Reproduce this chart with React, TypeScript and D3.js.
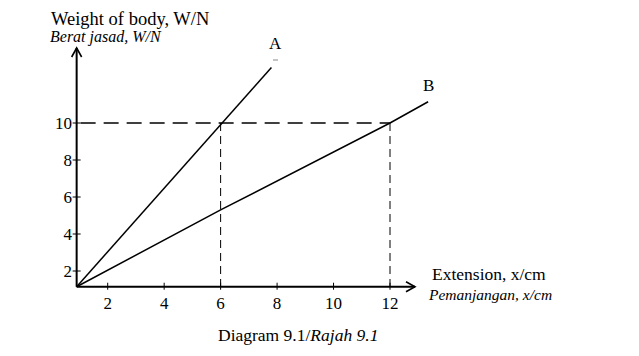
import React from "react";
import * as d3 from "d3";

const xTicks = [2, 4, 6, 8, 10, 12];
const yTicks = [2, 4, 6, 8, 10];
const origin = { x: 0.9, y: 1.15 };
const lineA = [
  { x: 0.9, y: 1.15 },
  { x: 7.8, y: 13.0 },
];
const lineB = [
  { x: 0.9, y: 1.15 },
  { x: 6, y: 5.3 },
  { x: 12, y: 10 },
  { x: 13.35, y: 11.15 },
];
const guideY = 10;
const guideXs = [6, 12];

const W = 639;
const H = 356;
const font = "'Liberation Serif', 'Times New Roman', serif";

export default function App() {
  const x = d3.scaleLinear().domain([2, 12]).range([107.7, 390]);
  const y = d3.scaleLinear().domain([2, 10]).range([271, 123]);
  const ox = x(origin.x);
  const oy = y(origin.y);
  const line = d3
    .line<{ x: number; y: number }>()
    .x((d) => x(d.x))
    .y((d) => y(d.y));
  const xEnd = 415;
  const yEnd = 48;
  return (
    <svg
      width={W}
      height={H}
      style={{ position: "absolute", left: 0, top: 0, display: "block", background: "#fff" }}
      fontFamily={font}
    >
      {/* dashed guides */}
      <line
        x1={ox + 4}
        x2={x(guideXs[1])}
        y1={y(guideY)}
        y2={y(guideY)}
        stroke="#000"
        strokeWidth={1.6}
        strokeDasharray="15 8"
      />
      {guideXs.map((g) => (
        <line
          key={g}
          x1={x(g)}
          x2={x(g)}
          y1={y(guideY)}
          y2={oy}
          stroke="#000"
          strokeWidth={1}
          strokeDasharray="8 5"
        />
      ))}
      {/* lines */}
      <path d={line(lineA) || ""} fill="none" stroke="#000" strokeWidth={1.5} />
      <path d={line(lineB) || ""} fill="none" stroke="#000" strokeWidth={1.5} />
      {/* axes */}
      <line x1={ox} x2={xEnd} y1={oy} y2={oy} stroke="#000" strokeWidth={2} />
      <line x1={ox} x2={ox} y1={oy} y2={yEnd} stroke="#000" strokeWidth={2} />
      <path
        d={`M${xEnd - 9},${oy - 5} L${xEnd},${oy} L${xEnd - 9},${oy + 5}`}
        fill="none"
        stroke="#000"
        strokeWidth={1.6}
      />
      <path
        d={`M${ox - 5},${yEnd + 9} L${ox},${yEnd} L${ox + 5},${yEnd + 9}`}
        fill="none"
        stroke="#000"
        strokeWidth={1.6}
      />
      {xTicks.map((t) => (
        <g key={t}>
          <line x1={x(t)} x2={x(t)} y1={oy - 4} y2={oy + 3} stroke="#000" strokeWidth={1} />
          <text x={x(t)} y={309} fontSize={17} textAnchor="middle">
            {t}
          </text>
        </g>
      ))}
      {yTicks.map((t) => (
        <g key={t}>
          <line x1={ox - 4} x2={ox + 4} y1={y(t)} y2={y(t)} stroke="#000" strokeWidth={1} />
          <text x={72} y={y(t) + 6} fontSize={17} textAnchor="end">
            {t}
          </text>
        </g>
      ))}
      {/* labels */}
      <text x={51} y={25} fontSize={18.5}>
        Weight of body, W/N
      </text>
      <text x={50} y={42} fontSize={16} fontStyle="italic">
        Berat jasad, W/N
      </text>
      <text x={269} y={49} fontSize={17}>
        A
      </text>
      <line x1={273} x2={278} y1={60} y2={60} stroke="#888" strokeWidth={1} />
      <text x={423} y={91} fontSize={17}>
        B
      </text>
      <text x={432} y={280} fontSize={17.5}>
        Extension, x/cm
      </text>
      <text x={429} y={300} fontSize={15.5} fontStyle="italic">
        Pemanjangan, x/cm
      </text>
      <text x={218} y={341} fontSize={17.5}>
        Diagram 9.1/<tspan fontStyle="italic">Rajah 9.1</tspan>
      </text>
    </svg>
  );
}
